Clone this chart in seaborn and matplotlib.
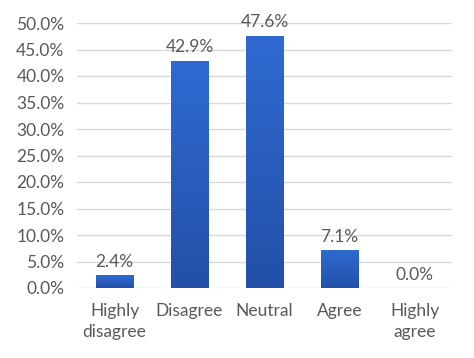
import matplotlib
matplotlib.use("Agg")
import matplotlib.pyplot as plt
import seaborn as sns
import numpy as np
import pandas as pd
from matplotlib.ticker import PercentFormatter
from matplotlib.colors import LinearSegmentedColormap

categories = ["Highly\ndisagree", "Disagree", "Neutral", "Agree", "Highly\nagree"]
values = [2.4, 42.9, 47.6, 7.1, 0.0]
yticks = [0, 5, 10, 15, 20, 25, 30, 35, 40, 45, 50]

sns.set_theme(style="white")
plt.rcParams['font.family'] = ['Lato', 'DejaVu Sans']

df = pd.DataFrame({"cat": categories, "val": values})
fig = plt.figure(figsize=(4.74, 3.58), dpi=100)
ax = fig.add_axes([77/474, 70/358, 375/474, (288-23)/358])
sns.barplot(data=df, x="cat", y="val", color="#2A5FC2", width=0.5, ax=ax, saturation=1)

ax.set_ylim(0, 50)
ax.set_yticks(yticks)
ax.yaxis.set_major_formatter(PercentFormatter(decimals=1))
ax.grid(axis="y", color="#D9D9D9", linewidth=1)
ax.set_axisbelow(True)
for s in ax.spines.values():
    s.set_visible(False)
ax.set_xlabel("")
ax.set_ylabel("")
ax.tick_params(axis="both", length=0, colors="#595959", labelsize=12.5)
ax.tick_params(axis="y", pad=9)
ax.tick_params(axis="x", pad=11)
for lbl in ax.get_xticklabels():
    lbl.set_linespacing(1.35)

grad = np.linspace(0, 1, 256).reshape(-1, 1)
cmap = LinearSegmentedColormap.from_list("g", ["#2350A8", "#2F6AD2"])
for p in ax.patches:
    x0, y0 = p.get_x(), p.get_y()
    w, h = p.get_width(), p.get_height()
    if h <= 0:
        continue
    im = ax.imshow(grad, extent=[x0, x0 + w, y0, y0 + h], origin="lower",
                   cmap=cmap, aspect="auto", zorder=p.get_zorder() + 0.1)
    im.set_clip_path(p)
ax.set_xlim(-0.5, 4.5)
ax.set_ylim(0, 50)

for i, v in enumerate(values):
    ax.text(i, v + 1.0, f"{v:.1f}%", ha="center", va="bottom", color="#595959", fontsize=12.5)

fig.savefig("out.png", dpi=100)
